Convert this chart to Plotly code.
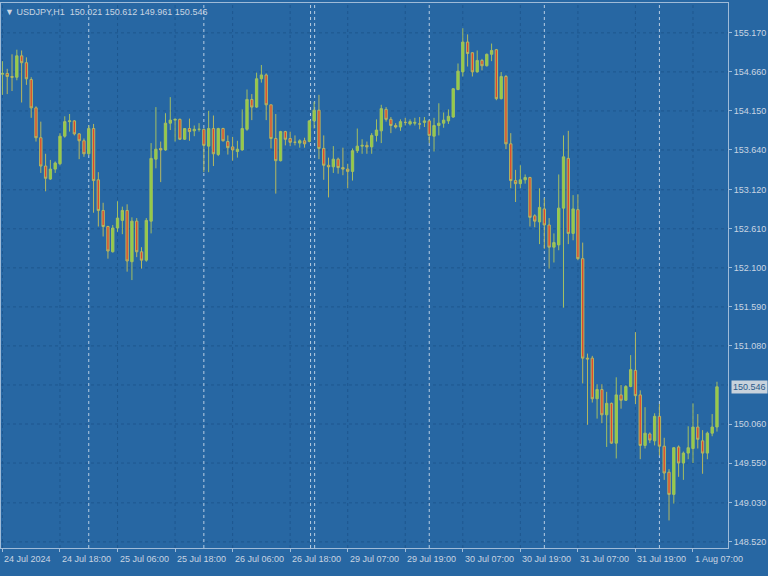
import plotly.graph_objects as go

# USDJPY H1 bars, 24 Jul 06:00 .. 1 Aug 10:00 (bar index on x)
opens = [
    154.63, 154.64, 154.60, 154.59, 154.87, 154.78, 154.56, 154.19, 153.80, 153.43,
    153.26, 153.39, 153.46, 153.82, 154.01, 154.02, 153.85, 153.76, 153.59, 153.92,
    153.25, 152.85, 152.64, 152.31, 152.62, 152.72, 152.85, 152.18, 152.71, 152.31,
    152.20, 152.71, 153.52, 153.66, 153.64, 153.99, 154.03, 154.04, 153.78, 153.92,
    153.89, 153.91, 153.91, 153.69, 153.92, 153.58, 153.92, 153.75, 153.68, 153.62,
    153.64, 153.91, 154.30, 154.20, 154.57, 154.62, 154.23, 153.79, 153.50, 153.88,
    153.79, 153.74, 153.73, 153.76, 153.75, 154.02, 154.16, 153.66, 153.44, 153.42,
    153.52, 153.41, 153.39, 153.36, 153.63, 153.69, 153.70, 153.68, 153.83, 153.89,
    154.17, 154.04, 153.96, 153.94, 154.00, 153.98, 153.99, 153.98, 154.00, 154.02,
    153.82, 153.96, 153.99, 154.02, 154.07, 154.43, 154.66, 155.05, 154.91, 154.66,
    154.81, 154.74, 154.89, 154.95, 154.31, 154.60, 153.72, 153.24, 153.20, 153.25,
    153.28, 152.78, 152.70, 152.87, 152.66, 152.37, 152.40, 152.88, 153.53, 152.55,
    152.86, 152.22, 150.92, 150.92, 150.39, 150.51, 150.18, 150.33, 149.81, 150.44,
    150.37, 150.55, 150.76, 150.44, 149.78, 149.93, 149.84, 150.16, 149.77, 149.43,
    149.14, 149.76, 149.55, 149.68, 149.74, 150.02, 149.84, 149.68, 149.94, 150.021,
]
highs = [
    154.80, 154.70, 154.89, 154.95, 154.94, 154.85, 154.59, 154.21, 154.01, 153.59,
    153.51, 153.49, 153.86, 154.08, 154.11, 154.03, 153.86, 153.79, 153.96, 153.98,
    153.35, 152.95, 152.65, 152.66, 152.97, 152.90, 152.93, 152.76, 152.75, 152.37,
    152.75, 153.73, 154.20, 153.75, 154.12, 154.33, 154.05, 154.05, 153.92, 154.05,
    153.96, 153.99, 153.92, 154.15, 154.09, 153.93, 153.93, 153.83, 153.81, 153.76,
    154.17, 154.43, 154.37, 154.65, 154.75, 154.64, 154.23, 154.11, 153.89, 153.89,
    153.88, 153.83, 153.78, 153.80, 154.03, 154.27, 154.36, 153.83, 153.54, 153.69,
    153.54, 153.67, 153.46, 153.66, 153.92, 153.78, 153.75, 153.86, 154.04, 154.23,
    154.20, 154.07, 153.99, 154.04, 154.06, 154.04, 154.06, 154.07, 154.07, 154.03,
    154.06, 154.25, 154.13, 154.17, 154.45, 154.77, 155.23, 155.15, 154.92, 154.94,
    154.83, 154.90, 155.03, 154.96, 154.66, 154.62, 153.86, 153.38, 153.44, 153.32,
    153.29, 152.80, 153.14, 153.01, 152.75, 152.55, 153.32, 153.83, 153.89, 153.05,
    153.06, 152.43, 150.98, 150.95, 150.58, 150.58, 150.48, 150.34, 150.67, 150.57,
    150.57, 150.96, 151.26, 150.50, 150.28, 149.95, 150.20, 150.32, 149.88, 149.47,
    149.76, 149.78, 149.70, 150.03, 150.33, 150.19, 149.98, 149.96, 150.19, 150.612,
]
lows = [
    154.36, 154.37, 154.41, 154.55, 154.26, 154.49, 154.06, 153.75, 153.34, 153.10,
    153.25, 153.34, 153.44, 153.80, 153.88, 153.83, 153.52, 153.55, 153.57, 152.82,
    152.64, 152.51, 152.22, 152.30, 152.57, 152.54, 152.05, 151.94, 152.24, 152.09,
    152.18, 152.55, 153.40, 153.22, 153.63, 153.90, 153.75, 153.77, 153.77, 153.76,
    153.82, 153.88, 153.35, 153.35, 153.43, 153.56, 153.75, 153.58, 153.50, 153.54,
    153.63, 153.89, 154.03, 154.19, 154.52, 154.03, 153.66, 153.07, 153.49, 153.70,
    153.69, 153.70, 153.67, 153.67, 153.74, 153.92, 153.52, 153.25, 153.02, 153.34,
    153.33, 153.31, 153.14, 153.24, 153.60, 153.59, 153.59, 153.59, 153.75, 153.73,
    154.01, 153.86, 153.92, 153.89, 153.96, 153.96, 153.96, 153.91, 153.94, 153.73,
    153.62, 153.83, 153.93, 153.98, 154.06, 154.42, 154.60, 154.73, 154.60, 154.65,
    154.68, 154.73, 154.80, 154.29, 154.30, 153.65, 153.14, 152.96, 153.14, 153.20,
    152.64, 152.63, 152.41, 152.35, 152.09, 152.17, 152.33, 151.58, 152.41, 152.46,
    152.20, 150.59, 150.05, 150.34, 150.13, 150.07, 149.76, 149.80, 149.61, 150.26,
    150.36, 150.54, 150.32, 149.60, 149.74, 149.81, 149.78, 149.65, 149.33, 148.80,
    149.02, 149.37, 149.33, 149.60, 149.55, 149.74, 149.41, 149.60, 149.90, 149.961,
]
closes = [
    154.64, 154.60, 154.59, 154.87, 154.78, 154.57, 154.19, 153.80, 153.43, 153.27,
    153.39, 153.47, 153.82, 154.01, 154.02, 153.85, 153.76, 153.59, 153.92, 153.24,
    152.85, 152.64, 152.32, 152.62, 152.75, 152.85, 152.19, 152.71, 152.31, 152.20,
    152.72, 153.53, 153.65, 153.64, 153.99, 154.03, 154.04, 153.78, 153.92, 153.88,
    153.91, 153.91, 153.70, 153.92, 153.59, 153.92, 153.76, 153.67, 153.64, 153.65,
    153.92, 154.30, 154.20, 154.57, 154.62, 154.23, 153.79, 153.50, 153.88, 153.78,
    153.74, 153.74, 153.76, 153.72, 154.02, 154.16, 153.66, 153.44, 153.42, 153.52,
    153.41, 153.39, 153.36, 153.63, 153.69, 153.70, 153.68, 153.83, 153.90, 154.18,
    154.04, 153.96, 153.94, 154.01, 154.00, 154.01, 154.00, 153.98, 154.02, 153.83,
    153.96, 153.99, 154.03, 154.08, 154.44, 154.67, 155.05, 154.90, 154.66, 154.81,
    154.74, 154.89, 154.94, 154.31, 154.60, 153.72, 153.24, 153.20, 153.25, 153.28,
    152.76, 152.71, 152.89, 152.66, 152.37, 152.43, 152.88, 153.55, 152.55, 152.87,
    152.22, 150.92, 150.91, 150.39, 150.51, 150.18, 150.33, 149.81, 150.44, 150.37,
    150.55, 150.77, 150.43, 149.78, 149.94, 149.85, 150.16, 149.77, 149.42, 149.14,
    149.75, 149.55, 149.68, 149.75, 150.02, 149.86, 149.68, 149.94, 150.02, 150.546,
]

tick_labels = [
    "24 Jul 2024", "24 Jul 18:00", "25 Jul 06:00", "25 Jul 18:00", "26 Jul 06:00",
    "26 Jul 18:00", "29 Jul 07:00", "29 Jul 19:00", "30 Jul 07:00", "30 Jul 19:00",
    "31 Jul 07:00", "31 Jul 19:00", "1 Aug 07:00",
]
tick_bars = [0, 12, 24, 36, 48, 60, 72, 84, 96, 108, 120, 132, 144]
price_ticks = [155.170, 154.660, 154.150, 153.640, 153.120, 152.610, 152.100,
               151.590, 151.080, 150.060, 149.550, 149.030, 148.520]
grid_prices = price_ticks + [150.570]
day_separators = [18, 42, 64.25, 65.1, 89, 113, 137]

BG = "#2767a3"
GRID = "#1e578f"
FRAME = "#9fbbd8"
TEXT = "#c9d5e2"
FONT = "Liberation Sans"

bars = list(range(len(closes)))

fig = go.Figure(go.Candlestick(
    x=bars, open=opens, high=highs, low=lows, close=closes,
    increasing=dict(fillcolor="#8fd13f", line=dict(color="#a3bf62", width=1)),
    decreasing=dict(fillcolor="#e2452b", line=dict(color="#b5b860", width=1)),
    whiskerwidth=0,
    showlegend=False,
))

for p in grid_prices:
    fig.add_shape(type="line", xref="paper", x0=0, x1=1, yref="y", y0=p, y1=p,
                  line=dict(color=GRID, width=1, dash="dot"), layer="below")
for b in tick_bars:
    fig.add_shape(type="line", xref="x", x0=b, x1=b, yref="paper", y0=0, y1=1,
                  line=dict(color=GRID, width=1, dash="dot"), layer="below")
for s in day_separators:
    fig.add_shape(type="line", xref="x", x0=s, x1=s, yref="paper", y0=0, y1=1,
                  line=dict(color="#b9cde2", width=1, dash="3px,3px"), layer="below")

# time labels, left-aligned at their tick like the terminal does
for b, lab in zip(tick_bars, tick_labels):
    fig.add_annotation(xref="x", x=b, xanchor="left", yref="paper", y=0, yanchor="top",
                       yshift=-4, text=lab, showarrow=False,
                       font=dict(family=FONT, size=9, color=TEXT))

# current price box
fig.add_annotation(xref="paper", x=1.0, xanchor="left", yref="y", y=closes[-1],
                   text=f"{closes[-1]:.3f}", showarrow=False,
                   bgcolor="#c8d2dc", font=dict(family=FONT, size=9, color="#2a5a8a"),
                   borderpad=1, xshift=3)
fig.add_annotation(xref="paper", yref="paper", x=0.003, y=0.997, xanchor="left", yanchor="top",
                   text="\u25bc USDJPY,H1  150.021 150.612 149.961 150.546",
                   showarrow=False, font=dict(family=FONT, size=9, color=TEXT))

fig.update_layout(
    width=768, height=576,
    paper_bgcolor=BG, plot_bgcolor=BG,
    margin=dict(l=1, r=40, t=3, b=28, autoexpand=False),
    font=dict(family=FONT, size=9, color=TEXT),
    xaxis=dict(
        range=[-0.3, 151.3], rangeslider=dict(visible=False),
        tickvals=tick_bars, showticklabels=False, ticks="outside", ticklen=3,
        tickcolor=FRAME, showgrid=False, zeroline=False, automargin=False,
        showline=True, linecolor=FRAME, mirror=True,
    ),
    yaxis=dict(
        range=[148.44, 155.56], side="right", automargin=False,
        tickvals=price_ticks, ticktext=[f"{p:.3f}" for p in price_ticks],
        ticks="outside", ticklen=3, tickcolor=FRAME,
        showgrid=False, zeroline=False,
        showline=True, linecolor=FRAME, mirror=True,
    ),
)

fig.write_html("out.html", config={"displayModeBar": False},
               post_script="document.body.style.margin='0';"
               "document.body.style.overflow='hidden';")
